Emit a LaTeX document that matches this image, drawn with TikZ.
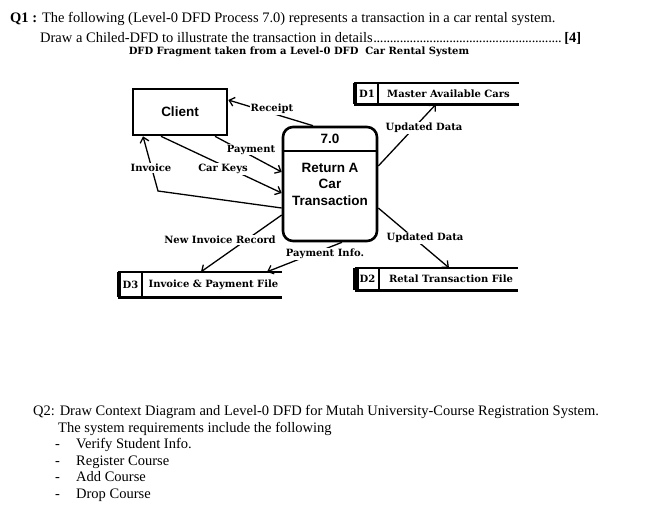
\documentclass[tikz,border=0pt]{standalone}
\usepackage{fontspec}
\setmainfont{Liberation Serif}
\newfontfamily\labfont{DejaVu Serif}
\newfontfamily\sansfont{Liberation Sans}
\usetikzlibrary{arrows.meta,calc}
\begin{document}
\begin{tikzpicture}[x=1pt,y=-1pt,
  qtext/.style={anchor=base west, inner sep=0pt, font=\fontsize{14.5}{16}\selectfont},
  lbl/.style={font=\labfont\bfseries\fontsize{10}{12}\selectfont, fill=white, inner sep=1.2pt},
  stxt/.style={font=\labfont\bfseries\fontsize{10}{12}\selectfont, inner sep=0pt},
  ptext/.style={font=\sansfont\bfseries\fontsize{13.5}{16.5}\selectfont, inner sep=0pt, align=center},
  flow/.style={line width=1.3pt, -{Straight Barb[length=5pt,width=9pt,line width=1.3pt]}},
  storeline/.style={line width=2.6pt},
]
\useasboundingbox (0,0) rectangle (648,512);
\fill[white] (0,0) rectangle (648,512);

% Question 1 text
\node[qtext] (q1a) at (10,22) {\textbf{Q1 :} The following (Level-0 DFD Process 7.0) represents a transaction in a car rental system.};
\node[qtext] (q1b) at (40,42) {\makebox[541pt][l]{Draw a Chiled-DFD to illustrate the transaction in details\leaders\hbox to 3.3pt{\hss.\hss}\hfill\textbf{[4]}}};
\node[font=\labfont\bfseries\fontsize{10}{12}\selectfont, inner sep=0pt] (cap) at (299,52) {DFD Fragment taken from a Level-0 DFD\ \ Car Rental System};

% Client
\node[draw, line width=2.6pt, minimum width=94pt, minimum height=46pt,
      font=\sansfont\bfseries\fontsize{13.5}{16}\selectfont] (client) at (180,112) {Client};

% Process
\node[draw, rounded corners=10pt, line width=2.6pt, minimum width=94pt, minimum height=114pt] (proc) at (330,184) {};
\draw[line width=2.2pt] (proc.west |- 0,151) -- (proc.east |- 0,151);
\node[ptext] (pid) at (330,139) {7.0};
\node[ptext] (pname) at (330,184) {Return A\\Car\\Transaction};

% Stores
\node[minimum width=164pt, minimum height=21pt, inner sep=0pt] (d1) at (437,93.5) {};
\node[minimum width=162pt, minimum height=22pt, inner sep=0pt] (d2) at (437,279) {};
\node[minimum width=163pt, minimum height=25pt, inner sep=0pt] (d3) at (200.5,284.5) {};
\foreach \s/\w in {d1/4pt,d2/6pt,d3/4pt}{
  \draw[storeline] (\s.north east) -- (\s.north west) -- (\s.south west) -- (\s.south east);
  \draw[line width=\w] (\s.north west) -- (\s.south west);
  \draw[line width=2.2pt] ($(\s.north west)+(23.5,0)$) -- ($(\s.south west)+(23.5,0)$);
}
\node[stxt] (d1id) at (367,93.5) {D1};
\node[stxt] (d1n) at (448.5,93.5) {Master Available Cars};
\node[stxt] (d2id) at (367.5,279) {D2};
\node[stxt] (d2n) at (451,279) {Retal Transaction File};
\node[stxt] (d3id) at (130.5,284.5) {D3};
\node[stxt] (d3n) at (213.5,284.5) {Invoice \& Payment File};

% Flows
\coordinate (invbend) at (158,191);
\draw[flow] ($(proc.north)+(-17,0)$) -- ($(client.east)+(0,-12)$);
\draw[flow] ($(client.south)+(35,0)$) -- ($(proc.west)+(0,-12)$);
\draw[flow] ($(client.south)+(-19,0)$) -- ($(proc.west)+(0,9)$);
\draw[flow] ($(proc.west)+(0,24)$) -- (invbend) -- ($(client.south)+(-37,0)$);
\draw[flow] ($(proc.east)+(0,-18)$) -- ($(d1.south)+(-1,0)$);
\draw[flow] ($(proc.east)+(0,24)$) -- ($(d2.north)+(12,0)$);
\draw[flow] ($(proc.west)+(0,31)$) -- ($(d3.north)+(0.5,0)$);
\draw[flow] ($(proc.south)+(12,0)$) -- ($(d3.north)+(66.5,0)$);

% Flow labels
\node[lbl] (lrec) at (272,109) {Receipt};
\node[lbl] (lpay) at (251,149.5) {Payment};
\node[lbl] (lkey) at (223,169) {Car Keys};
\node[lbl] (linv) at (151,168) {Invoice};
\node[lbl] (lud1) at (424,128) {Updated Data};
\node[lbl] (lud2) at (425,238) {Updated Data};
\node[lbl] (lnir) at (220,240) {New Invoice Record};
\node[lbl] (lpi) at (325,254) {Payment Info.};

% Question 2 text
\node[qtext] (q2a) at (33,415.5) {Q2: Draw Context Diagram and Level-0 DFD for Mutah University-Course Registration System.};
\node[qtext] (q2b) at (58,432) {The system requirements include the following};
\foreach \t [count=\i] in {Verify Student Info.,Register Course,Add Course,Drop Course}{
  \node[qtext] (dash\i) at (55,432+16.5*\i) {-};
  \node[qtext] (item\i) at (76,432+16.5*\i) {\t};
}
\end{tikzpicture}
\end{document}
